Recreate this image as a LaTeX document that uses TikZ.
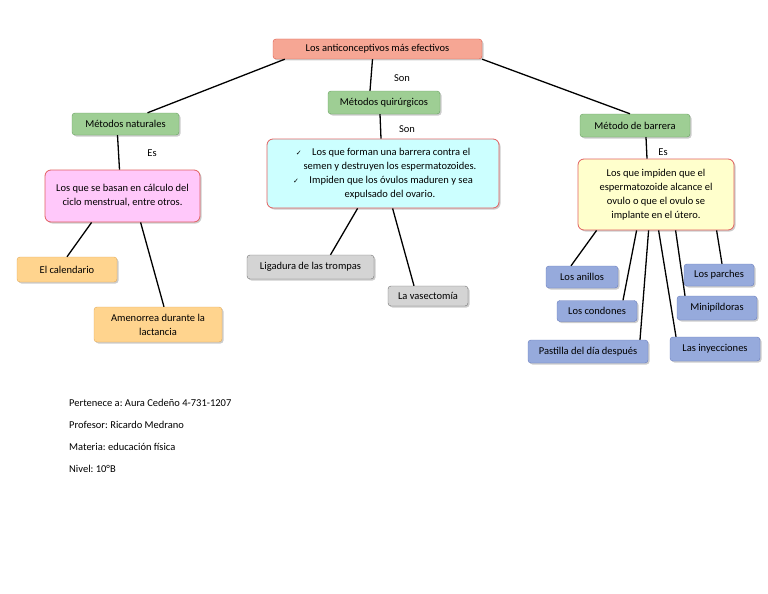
\documentclass[tikz,border=0pt]{standalone}
\usepackage{fontspec}
\setmainfont{Carlito}
\newfontfamily\checkfont{DejaVu Sans}
\usetikzlibrary{positioning, shadows}
\definecolor{RootFill}{RGB}{246, 166, 148}
\definecolor{RootLine}{RGB}{222, 90, 75}
\definecolor{GreenFill}{RGB}{158, 206, 148}
\definecolor{GreenLine}{RGB}{104, 160, 96}
\definecolor{PinkFill}{RGB}{255, 200, 250}
\definecolor{CyanFill}{RGB}{204, 255, 255}
\definecolor{YellowFill}{RGB}{255, 255, 204}
\definecolor{RedLine}{RGB}{225, 95, 95}
\definecolor{OrangeFill}{RGB}{255, 212, 142}
\definecolor{OrangeLine}{RGB}{225, 170, 90}
\definecolor{GrayFill}{RGB}{212, 212, 212}
\definecolor{GrayLine}{RGB}{115, 115, 115}
\definecolor{BlueFill}{RGB}{150, 170, 220}
\definecolor{BlueLine}{RGB}{105, 125, 190}
\newcommand{\chk}{{\checkfont\scriptsize ✓}}
\frenchspacing

\begin{document}
\begin{tikzpicture}[x=1pt, y=-1pt,
    every node/.style={font=\fontsize{10.5}{14}\selectfont, align=center},
    box/.style={rounded corners=3pt, inner sep=2pt,
                drop shadow={shadow xshift=1.5pt, shadow yshift=-1.5pt, opacity=0.4}},
    rootbox/.style={box, draw=RootLine, fill=RootFill},
    greenbox/.style={box, draw=GreenLine, fill=GreenFill},
    idea/.style={box, draw=RedLine, line width=0.8pt, rounded corners=6pt},
    orangebox/.style={box, draw=OrangeLine, fill=OrangeFill},
    graybox/.style={box, draw=GrayLine, fill=GrayFill},
    bluebox/.style={box, draw=BlueLine, fill=BlueFill},
    word/.style={inner sep=1pt},
    note/.style={anchor=west, inner sep=0pt},
    link/.style={line width=1.3pt}
]
\useasboundingbox (0,0) rectangle (768,594);

% levels 0 and 1
\node[rootbox, minimum width=209pt, minimum height=20pt] (root) at (377.5,49) {Los anticonceptivos más efectivos};
\node[greenbox, minimum width=107pt, minimum height=22pt] (nat) at (125.5,124) {Métodos naturales};
\node[greenbox, minimum width=112pt, minimum height=23pt] (quir) at (384,102.5) {Métodos quirúrgicos};
\node[greenbox, minimum width=110pt, minimum height=23pt] (barr) at (635,125.5) {Método de barrera};

% descriptions
\node[idea, fill=PinkFill, minimum width=155pt, minimum height=52pt] (pink) at (122.5,196) {Los que se basan en cálculo del\\ciclo menstrual, entre otros.};
\node[idea, fill=CyanFill, minimum width=232pt, minimum height=69pt] (cyan) at (383,173.5) {\chk\quad Los que forman una barrera contra el\\\hspace*{14pt}semen y destruyen los espermatozoides.\\\chk\quad Impiden que los óvulos maduren y sea\\\hspace*{14pt}expulsado del ovario.};
\node[idea, fill=YellowFill, minimum width=156pt, minimum height=71pt] (yel) at (656,194.5) {Los que impiden que el\\espermatozoide alcance el\\ovulo o que el ovulo se\\implante en el útero.};

% leaves
\node[orangebox, minimum width=100pt, minimum height=25pt] (cal) at (67,269.5) {El calendario};
\node[orangebox, minimum width=128pt, minimum height=35pt] (amen) at (158,324.5) {Amenorrea durante la\\lactancia};
\node[graybox, minimum width=127pt, minimum height=24pt] (lig) at (310.5,267) {Ligadura de las trompas};
\node[graybox, minimum width=80pt, minimum height=20pt] (vas) at (428,296) {La vasectomía};
\node[bluebox, minimum width=72pt, minimum height=22pt] (ani) at (582,277) {Los anillos};
\node[bluebox, minimum width=80pt, minimum height=21pt] (con) at (597,311) {Los condones};
\node[bluebox, minimum width=120pt, minimum height=23pt] (pas) at (588,351.5) {Pastilla del día después};
\node[bluebox, minimum width=70pt, minimum height=22pt] (par) at (719,275) {Los parches};
\node[bluebox, minimum width=80pt, minimum height=24pt] (mini) at (717,308) {Minipíldoras};
\node[bluebox, minimum width=90pt, minimum height=24pt] (iny) at (715,349) {Las inyecciones};

% connectors
\draw[link] ([xshift=12]root.south west) -- ([xshift=22]nat.north);
\draw[link] ([xshift=-5]root.south) -- ([xshift=-14]quir.north);
\draw[link] (root.south east) -- ([xshift=-5]barr.north);
\draw[link] ([xshift=-8]nat.south) -- ([xshift=-3]pink.north);
\draw[link] ([xshift=-4]quir.south) -- ([xshift=-2]cyan.north);
\draw[link] ([xshift=11]barr.south) -- ([xshift=-9]yel.north);
\draw[link] ([xshift=47]pink.south west) -- (cal.north);
\draw[link] ([xshift=96]pink.south west) -- ([xshift=6]amen.north);
\draw[link] ([xshift=91]cyan.south west) -- ([xshift=20]lig.north);
\draw[link] ([xshift=126]cyan.south west) -- ([xshift=-14]vas.north);
\draw[link] ([xshift=19]yel.south west) -- ([xshift=-11]ani.north);
\draw[link] ([xshift=59]yel.south west) -- ([xshift=26]con.north);
\draw[link] ([xshift=71]yel.south west) -- ([xshift=52]pas.north);
\draw[link] ([xshift=81]yel.south west) -- ([xshift=-39]iny.north);
\draw[link] ([xshift=98]yel.south west) -- ([xshift=-32]mini.north);
\draw[link] ([xshift=139]yel.south west) -- ([xshift=3]par.north);

% linking words
\node[word] (son1) at (402,78) {Son};
\node[word] (son2) at (407,129) {Son};
\node[word] (es1) at (152,153) {Es};
\node[word, fill=white, inner xsep=6pt] (es2) at (663,152) {Es};

% footer
\node[note] (own) at (69,403) {Pertenece a: Aura Cedeño 4-731-1207};
\node[note] (prof) at (69,425) {Profesor: Ricardo Medrano};
\node[note] (mat) at (69,447) {Materia: educación física};
\node[note] (niv) at (69,469) {Nivel: 10°B};
\end{tikzpicture}
\end{document}
